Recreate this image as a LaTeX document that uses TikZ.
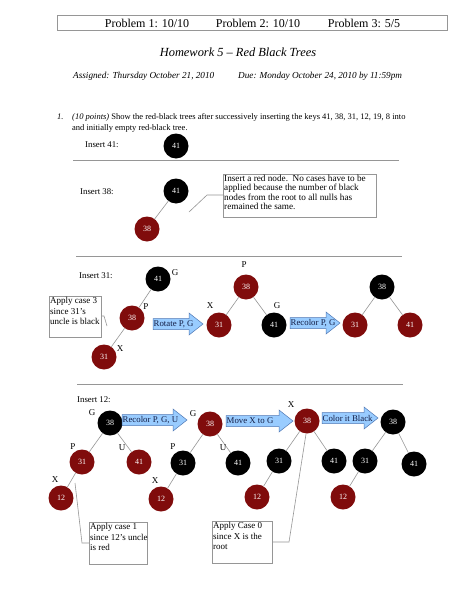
\documentclass[tikz,border=0pt]{standalone}
\usepackage{fontspec}
\setmainfont{Liberation Serif}
\definecolor{dred}{RGB}{128,12,12}
\definecolor{afill}{RGB}{153,204,255}
\definecolor{adraw}{RGB}{80,120,180}
\definecolor{lgray}{RGB}{150,150,150}
\definecolor{atext}{RGB}{20,30,70}
\newcommand{\ntfont}{\fontsize{9}{10.6}\selectfont}
\newcommand{\mainfont}{\fontsize{8.5}{12}\selectfont}
\newcommand{\barrow}[5]{%
  \draw[arrowbox] ({#2},{#4-5.5}) -- ({#3-14},{#4-5.5}) -- ({#3-14},{#4-11}) -- ({#3},{#4}) -- ({#3-14},{#4+11}) -- ({#3-14},{#4+5.5}) -- ({#2},{#4+5.5}) -- cycle;
  \node[arrowtext] (#1) at ({#2},{#4}) {#5};}
\tikzset{
  rbnode/.style={circle, minimum size=25pt, inner sep=0pt, text=white, font=\fontsize{8}{9}\selectfont},
  bk/.style={rbnode, fill=black},
  rd/.style={rbnode, fill=dred},
  edge/.style={draw=lgray, line width=0.6pt},
  tag/.style={inner sep=0pt, font=\fontsize{9}{10}\selectfont},
  lbl/.style={inner sep=0pt, anchor=west, font=\fontsize{8.8}{10}\selectfont},
  notebox/.style={draw=lgray, line width=0.6pt, inner sep=0pt, anchor=north west},
  notetext/.style={inner sep=1pt, anchor=north west, align=left, font=\ntfont},
  sep/.style={draw=lgray, line width=0.7pt},
  arrowbox/.style={fill=afill, draw=adraw, line width=0.5pt},
  arrowtext/.style={inner sep=0.5pt, anchor=west, text=atext, font=\fontsize{8.8}{10}\selectfont},
}
\begin{document}
\begin{tikzpicture}[x=1pt,y=-1pt]
\useasboundingbox[fill=white] (0,0) rectangle (474,613);

% header
\node[draw=lgray, line width=0.7pt, minimum width=390pt, minimum height=15pt, inner sep=0pt, anchor=north west] (hdr) at (57,15) {};
\node[inner sep=0pt, font=\fontsize{12}{13}\selectfont] (p1) at (147,23) {Problem 1: 10/10};
\node[inner sep=0pt, font=\fontsize{12}{13}\selectfont] (p2) at (258,23) {Problem 2: 10/10};
\node[inner sep=0pt, font=\fontsize{12}{13}\selectfont] (p3) at (364,23) {Problem 3: 5/5};

\node[inner sep=0pt, font=\fontsize{12.4}{14}\selectfont\itshape] (title) at (238,52) {Homework 5 -- Red Black Trees};
\node[inner sep=0pt, anchor=west, font=\fontsize{9.2}{11}\selectfont\itshape] (assg) at (73,76) {Assigned: Thursday October 21, 2010};
\node[inner sep=0pt, anchor=west, font=\fontsize{9.2}{11}\selectfont\itshape] (due) at (238,76) {Due: Monday October 24, 2010 by 11:59pm};

\node[inner sep=0pt, anchor=west, font=\mainfont\itshape] (num) at (57,117) {1.};
\node[inner sep=0pt, anchor=west, font=\mainfont] (q1) at (72,117) {\textit{(10 points)} Show the red-black trees after successively inserting the keys 41, 38, 31, 12, 19, 8 into};
\node[inner sep=0pt, anchor=west, font=\mainfont] (q2) at (72,128.5) {and initially empty red-black tree.};

% Insert 41
\node[lbl] (l41) at (85,145) {Insert 41:};
\node[bk] (a41) at (176,146) {41};
\coordinate (s1a) at (73,160); \coordinate (s1b) at (399,160);
\draw[sep] (s1a) -- (s1b);

% Insert 38
\node[lbl] (l38) at (80,192) {Insert 38:};
\node[bk] (b41) at (176,191) {41};
\node[rd] (b38) at (147,229) {38};
\draw[edge] (b41) -- (b38);
\node[notebox, minimum width=153pt, minimum height=43pt] (nb) at (223,174) {};
\node[notetext, font=\fontsize{9.2}{9.4}\selectfont] (nbt) at (nb.north west) {Insert a red node.\ \ No cases have to be\\applied because the number of black\\nodes from the root to all nulls has\\remained the same.};
\coordinate (nb1) at (207,195); \coordinate (nb2) at (189,212);
\draw[edge] (nb.west |- nb1) -- (nb1) -- (nb2);
\coordinate (s2a) at (76,256); \coordinate (s2b) at (402,256);
\draw[sep] (s2a) -- (s2b);

% Insert 31
\node[lbl] (l31) at (79,276) {Insert 31:};
\node[bk] (c41) at (158,279) {41};
\node[rd] (c38) at (132,318) {38};
\node[rd] (c31) at (104,357) {31};
\draw[edge] (c41) -- (c38);
\draw[edge] (c38) -- (c31);
\node[tag] (cg) at (175,273) {G};
\node[tag] (cp) at (146,307) {P};
\node[tag] (cx) at (120,349) {X};
\node[notebox, minimum width=52pt, minimum height=41pt] (nc) at (49,296) {};
\node[notetext] (nct) at (nc.north west) {Apply case 3\\since 31's\\uncle is black};
\coordinate (nc1) at (104,316); \coordinate (nc2) at (107,326);
\draw[edge] (nc.east |- nc1) -- (nc1) -- (nc2);

\barrow{ar1}{153}{203}{324}{Rotate P, G}

\node[rd] (d38) at (246,287) {38};
\node[rd] (d31) at (219,325) {31};
\node[bk] (d41) at (274,325) {41};
\draw[edge] (d38) -- (d31);
\draw[edge] (d38) -- (d41);
\node[tag] (dp) at (244,265) {P};
\node[tag] (dx) at (210,306) {X};
\node[tag] (dg) at (277,306) {G};

\barrow{ar2}{290}{340}{323}{Recolor P, G}

\node[bk] (e38) at (382,287) {38};
\node[rd] (e31) at (355,325) {31};
\node[rd] (e41) at (410,325) {41};
\draw[edge] (e38) -- (e31);
\draw[edge] (e38) -- (e41);

\coordinate (s3a) at (77,384); \coordinate (s3b) at (403,384);
\draw[sep] (s3a) -- (s3b);

% Insert 12
\node[lbl] (l12) at (77,400) {Insert 12:};
\node[bk] (f38) at (110,423) {38};
\node[rd] (f31) at (82,462) {31};
\node[rd] (f41) at (139,462) {41};
\node[rd] (f12) at (61,498) {12};
\draw[edge] (f38) -- (f31);
\draw[edge] (f38) -- (f41);
\draw[edge] (f31) -- (f12);
\node[tag] (fg) at (92,413) {G};
\node[tag] (fp) at (73,447) {P};
\node[tag] (fu) at (122,448) {U};
\node[tag] (fx) at (55,480) {X};

\barrow{ar3}{122}{187}{420}{Recolor P, G, U}

\node[rd] (g38) at (210,424) {38};
\node[bk] (g31) at (183,463) {31};
\node[bk] (g41) at (238,463) {41};
\node[rd] (g12) at (161,499) {12};
\draw[edge] (g38) -- (g31);
\draw[edge] (g38) -- (g41);
\draw[edge] (g31) -- (g12);
\node[tag] (gg) at (193,414) {G};
\node[tag] (gp) at (173,447) {P};
\node[tag] (gu) at (223,448) {U};
\node[tag] (gx) at (155,481) {X};

\barrow{ar4}{226}{293}{421}{Move X to G}

\node[rd] (h38) at (307,421) {38};
\node[bk] (h31) at (279,461) {31};
\node[bk] (h41) at (334,461) {41};
\node[rd] (h12) at (257,497) {12};
\draw[edge] (h38) -- (h31);
\draw[edge] (h38) -- (h41);
\draw[edge] (h31) -- (h12);
\node[tag] (hx) at (291,405) {X};

\barrow{ar5}{322}{378}{418}{Color it Black}

\node[bk] (i38) at (393,422) {38};
\node[bk] (i31) at (365,461) {31};
\node[bk] (i41) at (414,464) {41};
\node[rd] (i12) at (343,497) {12};
\draw[edge] (i38) -- (i31);
\draw[edge] (i38) -- (i41);
\draw[edge] (i31) -- (i12);

% bottom notes
\node[notebox, minimum width=58pt, minimum height=42pt] (nf) at (89,522) {};
\node[notetext] (nft) at (nf.north west) {Apply case 1\\since 12's uncle\\is red};
\coordinate (nf1) at (82,543); \coordinate (nf2) at (75,483);
\draw[edge] (nf.west |- nf1) -- (nf1) -- (nf2);

\node[notebox, minimum width=60pt, minimum height=42pt] (nh) at (212,521) {};
\node[notetext] (nht) at (nh.north west) {Apply Case 0\\since X is the\\root};
\coordinate (nh1) at (289,542); \coordinate (nh2) at (306,434);
\draw[edge] (nh.east |- nh1) -- (nh1) -- (nh2);
\end{tikzpicture}
\end{document}
